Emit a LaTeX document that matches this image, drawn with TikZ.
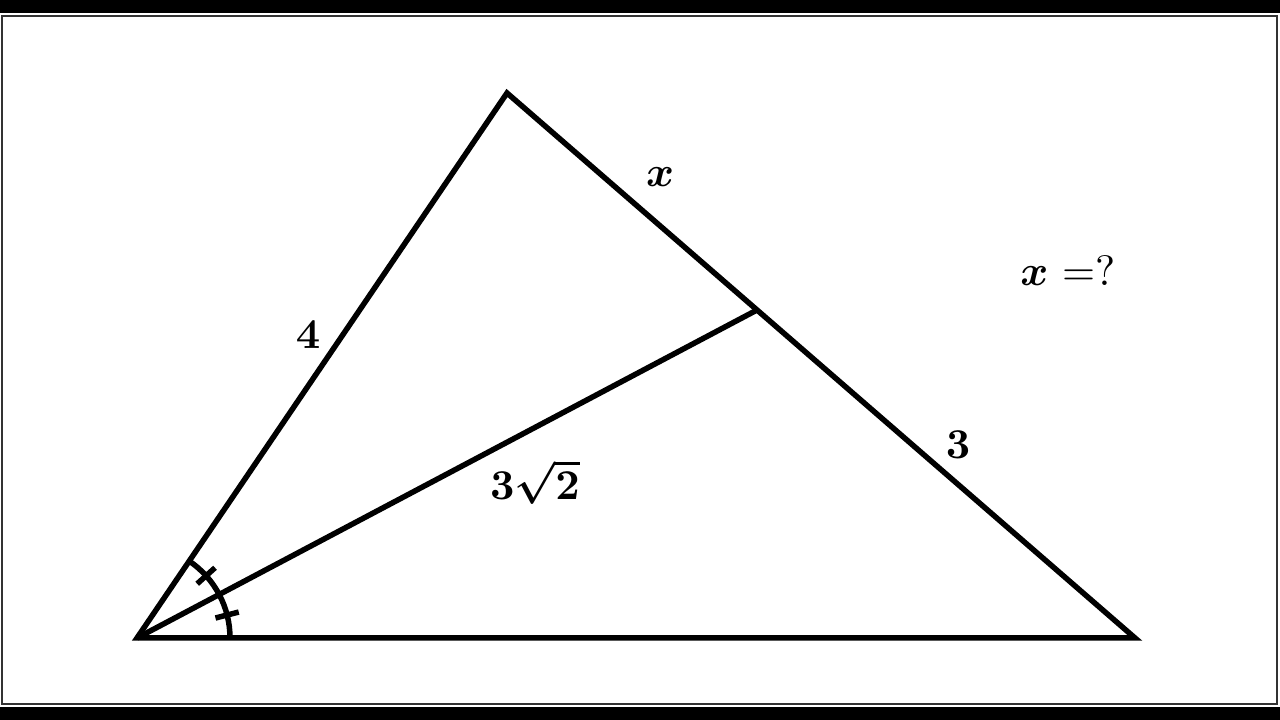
\documentclass[tikz,border=0pt]{standalone}
\usetikzlibrary{calc}

\begin{document}
\begin{tikzpicture}[x=1pt,y=1pt,every path/.style={line width=5.5pt},
  lbl/.style={font=\boldmath,inner sep=0pt,scale=4.25,transform shape}]
\useasboundingbox (0,0) rectangle (1280,720);
\fill[black] (0,707) rectangle (1280,720);
\fill[black] (0,0) rectangle (1280,13);
\draw[line width=2pt,black!80] (2,16) rectangle (1277,704);
\coordinate      (A) at (137,82);
\coordinate      (B) at (507,627);
\coordinate      (C) at (1135,82);
\coordinate      (D) at (757,410);
\draw             (A) -- (B) -- (C) -- cycle;
\draw             (A) -- (D);
\draw             ($(A)+(0:93)$) arc[start angle=0,end angle=55.8,radius=93];
\draw             ($(A)+(14.3:81)$) -- ($(A)+(14.3:105)$);
\draw             ($(A)+(42:81)$) -- ($(A)+(42:105)$);
\node[lbl]      (s4) at (308,385) {$4$};
\node[lbl]      (sx) at (660,543) {$x$};
\node[lbl]      (s3) at (958,275) {$3$};
\node[lbl]      (sd) at (535,238) {$3\sqrt{2}$};
\node[lbl]      (q)  at (1068,449) {$x$ {\fontseries{m}\selectfont =?}};
\end{tikzpicture}
\end{document}
